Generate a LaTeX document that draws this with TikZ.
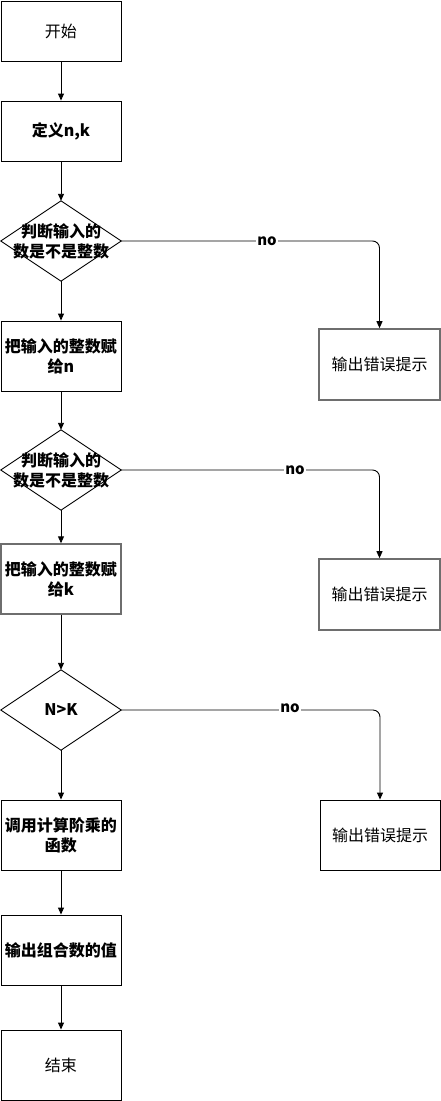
\documentclass[tikz,border=0pt]{standalone}
\usepackage{fontspec}
\setmainfont{Noto Sans CJK SC}
\usetikzlibrary{arrows.meta}
\definecolor{errgray}{RGB}{110,110,110}

\begin{document}
\begin{tikzpicture}[x=1pt,y=-1pt,
  every node/.style={font=\fontsize{16}{20}\selectfont, align=center},
  stepbox/.style={draw, line width=0.9pt, minimum width=120pt, minimum height=70pt, inner sep=0pt},
  bstep/.style={stepbox, font=\fontsize{16}{20}\selectfont\bfseries},
  errbox/.style={stepbox, draw=errgray, line width=1.6pt, minimum width=121pt, minimum height=71pt},
  decide/.style={minimum width=120pt, minimum height=80pt, inner sep=0pt, font=\fontsize{16}{20}\selectfont\bfseries},
  flow/.style={-{Triangle[length=7pt,width=6pt]}, line width=0.9pt},
  nolabel/.style={fill=white, inner sep=1pt, font=\fontsize{15}{16}\selectfont\bfseries}]
\useasboundingbox (0,0) rectangle (441,1101);

% main column
\node[stepbox, minimum height=60pt] (start) at (61,31) {开始};
\node[bstep, minimum height=60pt] (define) at (61,131) {定义n,k};
\node[decide] (check1) at (61,241) {判断输入的\\数是不是整数};
\node[bstep] (readn) at (61,356) {把输入的整数赋\\给n};
\node[decide] (check2) at (61,470) {判断输入的\\数是不是整数};
\node[bstep, draw=errgray, line width=1.4pt] (readk) at (61,579) {把输入的整数赋\\给k};
\node[decide] (compare) at (61,710) {N>K};
\node[bstep] (call) at (61,835) {调用计算阶乘的\\函数};
\node[bstep] (result) at (61,950) {输出组合数的值};
\node[stepbox] (stop) at (61,1065) {结束};

% error boxes
\node[errbox] (err1) at (379.5,364.5) {输出错误提示};
\node[errbox] (err2) at (379.5,594.5) {输出错误提示};
\node[stepbox] (err3) at (380,835) {输出错误提示};

% diamonds
\foreach \d in {check1,check2,compare}
  \draw[line width=0.9pt] (\d.north) -- (\d.east) -- (\d.south) -- (\d.west) -- cycle;

% main flow
\draw[flow] (start) -- (define);
\draw[flow] (define) -- (check1.north);
\draw[flow] (check1.south) -- (readn);
\draw[flow] (readn) -- (check2.north);
\draw[flow] (check2.south) -- (readk);
\draw[flow] (readk) -- (compare.north);
\draw[flow] (compare.south) -- (call);
\draw[flow] (call) -- (result);
\draw[flow] (result) -- (stop);

% no branches
\coordinate (c1) at (err1.north |- check1.east);
\coordinate (c2) at (err2.north |- check2.east);
\coordinate (c3) at (err3.north |- compare.east);
\draw[flow, rounded corners=7pt] (check1.east) -- (c1) -- (err1.north);
\draw[flow, rounded corners=7pt] (check2.east) -- (c2) -- (err2.north);
\draw[flow, rounded corners=7pt] (compare.east) -- (c3) -- (err3.north);
\node[nolabel] (no1) at (267,241) {no};
\node[nolabel] (no2) at (295,470) {no};
\node[nolabel] (no3) at (290,708) {no};
\end{tikzpicture}
\end{document}
